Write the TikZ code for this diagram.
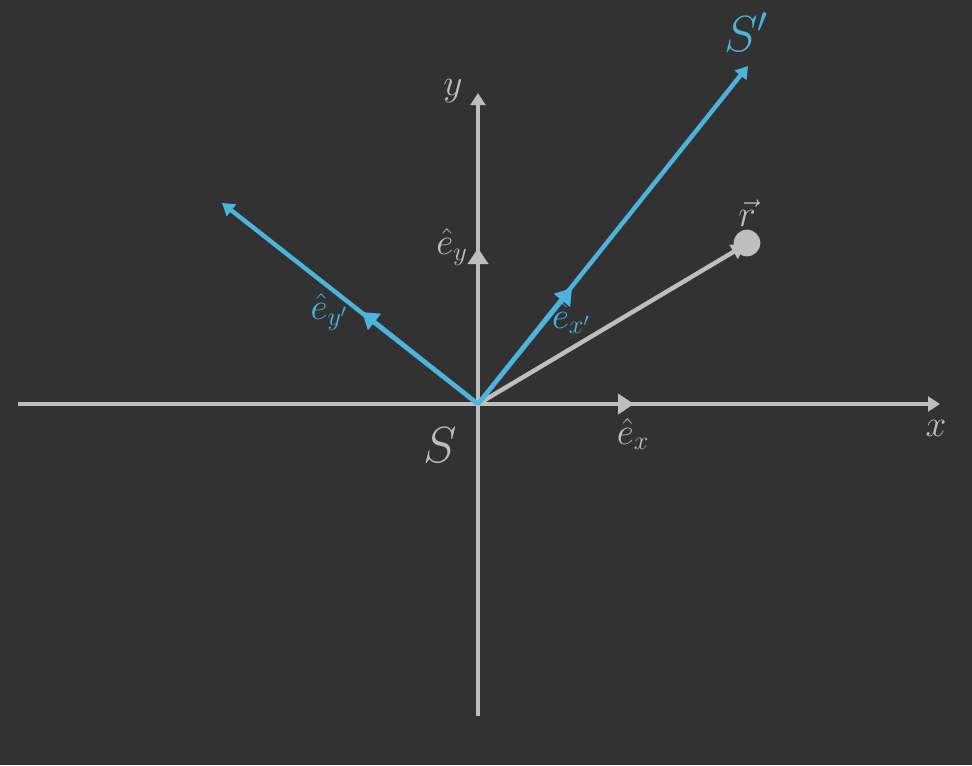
\RequirePackage{fix-cm}
\documentclass[tikz,border=0pt]{standalone}
\usetikzlibrary{arrows.meta}
\definecolor{bg}{HTML}{323232}
\definecolor{ax}{HTML}{BEBEBE}
\definecolor{bl}{HTML}{4AB4DC}
\tikzset{
  axis/.style={line width=3.3pt, draw=ax, -{Triangle[length=9pt,width=11pt]}},
  baxis/.style={line width=3.3pt, draw=bl, -{Triangle[length=9pt,width=11pt]}},
  unitv/.style={line width=3.3pt, draw=ax, -{Triangle[length=12pt,width=15pt]}},
  bunitv/.style={line width=3.3pt, draw=bl, -{Triangle[length=12pt,width=15pt]}},
  lab/.style={text=ax, inner sep=0pt, font=\fontsize{28}{34}\selectfont},
  blab/.style={text=bl, inner sep=0pt, font=\fontsize{28}{34}\selectfont},
  biglab/.style={inner sep=0pt, font=\fontsize{38}{46}\selectfont},
}
\begin{document}
\begin{tikzpicture}[x=0.75pt,y=-0.75pt]
\fill[bg] (0,0) rectangle (972,765);
\useasboundingbox (0,0) rectangle (972,765);
% coordinates
\coordinate (O) at (478,404);
\coordinate (xl) at (18,404);
\coordinate (xr) at (940,404);
\coordinate (yb) at (478,716);
\coordinate (yt) at (478,93);
\coordinate (ex) at (634,404);
\coordinate (ey) at (478,248);
\coordinate (xp) at (748,66);
\coordinate (yp) at (222,203);
\coordinate (exp) at (572,288);
\coordinate (eyp) at (362,312);
\coordinate (rt) at (745,245);
% labels
\node[lab] (lx) at (936,428) {$x$};
\node[lab] (ly) at (453,91) {$y$};
\node[lab] (lex) at (633,434) {$\hat e_x$};
\node[lab] (ley) at (452,247) {$\hat e_y$};
\node[blab] (lexp) at (571,318) {$\hat e_{x'}$};
\node[blab] (leyp) at (329,312) {$\hat e_{y'}$};
\node[lab] (lr) at (747,213) {$\vec r$};
\node[text=ax, biglab] (lS) at (440,445) {$S$};
\node[text=bl, biglab] (lSp) at (746,32) {$S'$};
% axes
\draw[line width=3.3pt, draw=ax] (xl) -- (O);
\draw[axis] (O) -- (xr);
\draw[line width=3.3pt, draw=ax] (yb) -- (O);
\draw[axis] (O) -- (yt);
\draw[unitv] (O) -- (ex);
\draw[unitv] (O) -- (ey);
\draw[line width=3.3pt, draw=ax, -{Triangle[length=10pt,width=12pt]}] (O) -- (rt);
\node[circle, fill=ax, minimum size=20pt, inner sep=0pt] (r) at (747,243) {};
% rotated frame
\draw[baxis] (O) -- (xp);
\draw[baxis] (O) -- (yp);
\draw[bunitv] (O) -- (exp);
\draw[bunitv] (O) -- (eyp);
\end{tikzpicture}
\end{document}
